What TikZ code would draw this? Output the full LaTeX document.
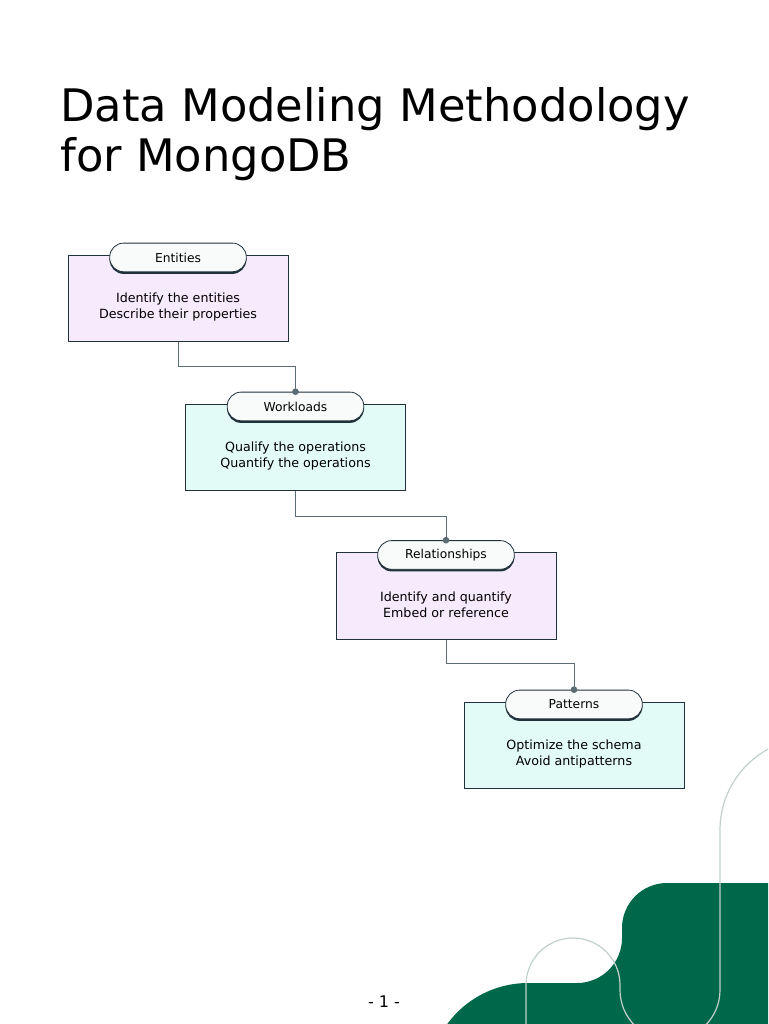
\documentclass[tikz,border=0pt]{standalone}
\usepackage{fontspec}
\setmainfont{DejaVu Sans}
\usetikzlibrary{shadows}
\definecolor{slate}{HTML}{21313C}
\definecolor{lavfill}{HTML}{F6EBFD}
\definecolor{mintfill}{HTML}{E3FBF6}
\definecolor{pillfill}{HTML}{F9FBFA}
\definecolor{linkgray}{HTML}{5C6C75}
\definecolor{wavegray}{HTML}{C1D0CB}
\definecolor{mdbgreen}{HTML}{00684A}
\begin{document}
\begin{tikzpicture}[x=0.75pt,y=-0.75pt,
    stagebox/.style={draw=slate,line width=0.6pt,minimum width=165pt,minimum height=65pt,inner sep=0pt},
    tagpill/.style={draw=slate,line width=0.6pt,fill=pillfill,rounded corners=10.5pt,
      minimum width=102.5pt,minimum height=21.5pt,inner sep=0pt,font=\fontsize{9.2}{11}\selectfont,
      drop shadow={shadow xshift=0pt,shadow yshift=-1.6pt,opacity=1,fill=slate}},
    bodytext/.style={align=center,inner sep=0pt,font=\fontsize{9.5}{12}\selectfont},
    link/.style={draw=linkgray,line width=0.6pt},
    dot/.style={circle,fill=linkgray,inner sep=0pt,minimum size=5pt}]
  \useasboundingbox (0,0) rectangle (768,1024);

  % corner decoration
  \begin{scope}
    \clip (0,0) rectangle (768,1024);
    \fill[mdbgreen] (768,883) -- (667,883) arc[start angle=270,end angle=180,radius=45]
      -- (622,938) arc[start angle=0,end angle=90,radius=45]
      -- (528,983) arc[start angle=270,end angle=200,radius=100]
      -- (434,1060) -- (768,1060) -- cycle;
    \draw[wavegray,line width=0.9pt] (526,1040) -- (526,985)
      arc[start angle=180,end angle=360,radius=47] -- (620,990)
      arc[start angle=180,end angle=0,radius=50] -- (720,830)
      arc[start angle=180,end angle=270,radius=92];
  \end{scope}

  \node[anchor=base west,align=left,inner sep=0pt,font=\fontsize{33.6}{37}\selectfont] (title)
    at (60,171) {Data Modeling Methodology\\for MongoDB};

  % stages
  \node[stagebox,fill=lavfill] (entities) at (178,298.5) {};
  \node[bodytext] (entities-txt) at ([yshift=-6.5pt]entities.center) {Identify the entities\\Describe their properties};
  \node[tagpill] (entities-tag) at ([yshift=-2pt]entities.north) {Entities};

  \node[stagebox,fill=mintfill] (workloads) at (295.5,447.5) {};
  \node[bodytext] (workloads-txt) at ([yshift=-6.5pt]workloads.center) {Qualify the operations\\Quantify the operations};
  \node[tagpill] (workloads-tag) at ([yshift=-2pt]workloads.north) {Workloads};

  \node[stagebox,fill=lavfill] (relations) at (446,596) {};
  \node[bodytext] (relations-txt) at ([yshift=-6.5pt]relations.center) {Identify and quantify\\Embed or reference};
  \node[tagpill] (relations-tag) at ([yshift=-2pt]relations.north) {Relationships};

  \node[stagebox,fill=mintfill] (patterns) at (574,745.5) {};
  \node[bodytext] (patterns-txt) at ([yshift=-6.5pt]patterns.center) {Optimize the schema\\Avoid antipatterns};
  \node[tagpill] (patterns-tag) at ([yshift=-2pt]patterns.north) {Patterns};

  % links
  \draw[link] (entities.south) -- ++(0,24) -| (workloads-tag.north);
  \node[dot] (workloads-dot) at (workloads-tag.north) {};
  \draw[link] (workloads.south) -- ++(0,25) -| (relations-tag.north);
  \node[dot] (relations-dot) at (relations-tag.north) {};
  \draw[link] (relations.south) -- ++(0,24) -| (patterns-tag.north);
  \node[dot] (patterns-dot) at (patterns-tag.north) {};

  \node[font=\fontsize{12}{14}\selectfont] (pagenum) at (384,1002) {- 1 -};
\end{tikzpicture}
\end{document}
